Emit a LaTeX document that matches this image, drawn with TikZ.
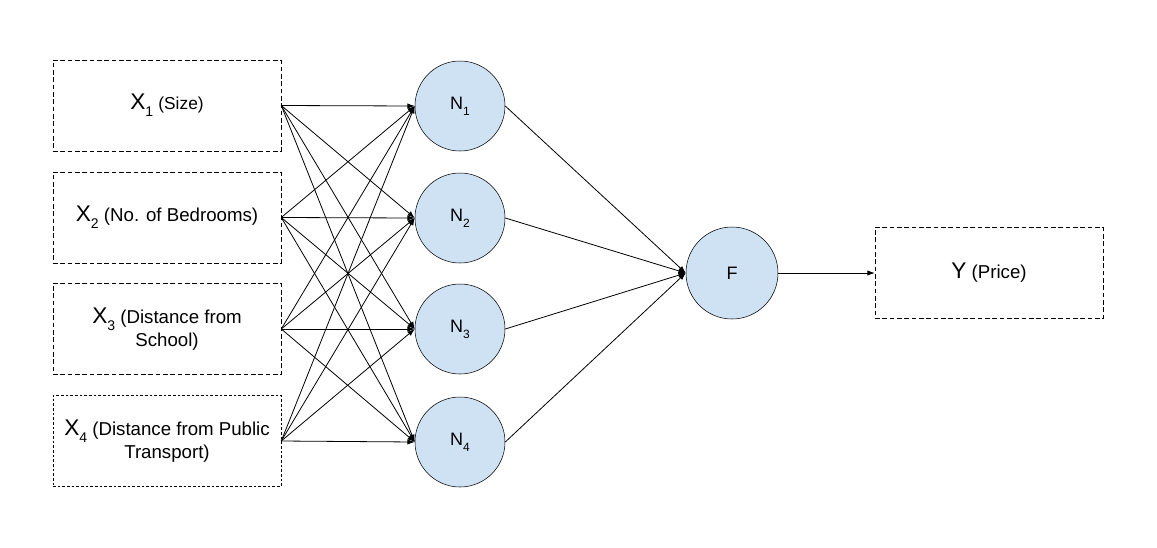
\documentclass[tikz,border=0pt]{standalone}
\usepackage{fontspec}
\setmainfont{Liberation Sans}
\usetikzlibrary{arrows.meta}

\definecolor{nodeblue}{RGB}{207,226,243}

\tikzset{
  inbox/.style={draw, dash pattern=on 3.5pt off 2pt, minimum width=171pt,
    minimum height=68.5pt, inner sep=0pt, align=center,
    font=\fontsize{14}{17.5}\selectfont},
  neuron/.style={draw, circle, fill=nodeblue, minimum size=67.5pt,
    inner sep=0pt, font=\fontsize{13.5}{15}\selectfont},
  wire/.style={-{Latex[length=5.5pt,width=4pt]}, line width=0.6pt},
}

\newcommand{\bigvar}[2]{{\fontsize{17}{17}\selectfont #1}\raisebox{-5.5pt}{\fontsize{10.5}{10}\selectfont #2}}
\newcommand{\nsub}[1]{N\raisebox{-4.5pt}{\fontsize{9}{9}\selectfont #1}}

\begin{document}
\begin{tikzpicture}[x=0.75pt, y=-0.75pt]
    \useasboundingbox (0,0) rectangle (1157,547);
    % Inputs:
    \node[inbox] (x1) at (167,105.5) {\bigvar{X}{1} {\fontsize{13}{15}\selectfont(Size)}};
    \node[inbox] (x2) at (167,217.5) {\bigvar{X}{2} (No. of Bedrooms)};
    \node[inbox] (x3) at (167,329) {\bigvar{X}{3} (Distance from\\School)};
    \node[inbox, dash pattern=on 2pt off 1.5pt] (x4) at (167,441)
      {\bigvar{X}{4} (Distance from Public\\Transport)};
    % Hidden layer:
    \node[neuron] (n1) at (460,106) {\nsub{1}};
    \node[neuron] (n2) at (460,218) {\nsub{2}};
    \node[neuron] (n3) at (460,329) {\nsub{3}};
    \node[neuron] (n4) at (460,442) {\nsub{4}};
    % Output:
    \node[neuron, minimum size=69pt] (f) at (732,273) {F};
    \node[inbox] (y) at (989,273) {{\fontsize{17}{17}\selectfont Y} (Price)};
    % Drawing:
    \foreach \i in {1,...,4}
      \foreach \j in {1,...,4}
        \draw[wire] (x\i.east) -- (n\j.west);
    \foreach \j in {1,...,4}
      \draw[wire] (n\j.east) -- (f.west);
    \draw[wire] (f.east) -- (y.west);
  \end{tikzpicture}
\end{document}
